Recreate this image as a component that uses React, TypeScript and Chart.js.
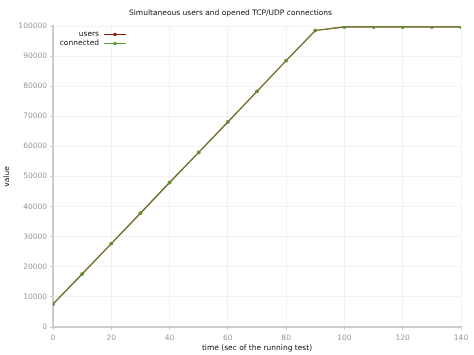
import React, { useEffect, useRef } from "react";
import { Chart, registerables } from "chart.js";

Chart.register(...registerables);

const timeSec = [0, 10, 20, 30, 40, 50, 60, 70, 80, 90, 100, 110, 120, 130, 140];
const usersValues = [7600, 17600, 27700, 37800, 48000, 58000, 68100, 78300, 88500, 98500, 99700, 99700, 99700, 99700, 99700];
const connectedValues = [7600, 17600, 27700, 37800, 48000, 58000, 68100, 78300, 88500, 98500, 99700, 99700, 99700, 99700, 99700];
const seriesNames = ["users", "connected"];
const titleText = "Simultaneous users and opened TCP/UDP connections";
const xTitle = "time (sec of the running test)";
const yTitle = "value";

const FONT = "'DejaVu Sans', sans-serif";
const USERS_COLOR = "#8b1a0e";
const CONNECTED_COLOR = "#5e9c36";

const legendPlugin = {
  id: "gnuLegend",
  afterDraw(chart: any) {
    const ctx = chart.ctx;
    const items = [
      { label: seriesNames[0], color: USERS_COLOR, y: 34 },
      { label: seriesNames[1], color: CONNECTED_COLOR, y: 43 },
    ];
    ctx.save();
    ctx.font = `7.5px ${FONT}`;
    ctx.textAlign = "right";
    ctx.textBaseline = "middle";
    for (const it of items) {
      ctx.fillStyle = "#111";
      ctx.fillText(it.label, 99, it.y);
      ctx.strokeStyle = it.color;
      ctx.lineWidth = 1;
      ctx.beginPath();
      ctx.moveTo(104, it.y + 0.5);
      ctx.lineTo(126, it.y + 0.5);
      ctx.stroke();
      ctx.fillStyle = it.color;
      ctx.beginPath();
      ctx.arc(115, it.y + 0.5, 1.8, 0, Math.PI * 2);
      ctx.fill();
    }
    ctx.restore();
  },
};

export default function App() {
  const ref = useRef<HTMLCanvasElement>(null);
  useEffect(() => {
    document.body.style.margin = "0";
    const chart = new Chart(ref.current as HTMLCanvasElement, {
      type: "line",
      data: {
        datasets: [
          {
            label: seriesNames[0],
            data: timeSec.map((x, i) => ({ x, y: usersValues[i] })),
            borderColor: USERS_COLOR,
            backgroundColor: USERS_COLOR,
            borderWidth: 1.2,
            pointRadius: 1.6,
            pointBorderWidth: 0,
            order: 2,
          },
          {
            label: seriesNames[1],
            data: timeSec.map((x, i) => ({ x, y: connectedValues[i] })),
            borderColor: "rgba(94,156,54,0.72)",
            backgroundColor: "rgba(94,156,54,0.8)",
            borderWidth: 1.2,
            pointRadius: 1.9,
            pointBorderWidth: 0,
            order: 1,
          },
        ],
      },
      options: {
        responsive: false,
        animation: false,
        layout: { padding: { left: 0, right: 13, top: 0, bottom: 0 } },
        plugins: {
          legend: { display: false },
          tooltip: { enabled: false },
          title: {
            display: true,
            text: titleText,
            color: "#111",
            font: { family: FONT, size: 7.5, weight: "normal" },
            padding: { top: 9, bottom: 8 },
          },
        },
        scales: {
          x: {
            type: "linear",
            min: 0,
            max: 140,
            ticks: {
              stepSize: 20,
              color: "#999",
              font: { family: FONT, size: 7.5 },
              padding: 4,
              maxRotation: 0,
              callback: (v: any) => String(v),
            },
            grid: { color: "rgba(0,0,0,0.05)", tickLength: 3, tickColor: "#ccc" },
            border: { color: "#ccc", width: 2 },
            title: {
              display: true,
              text: xTitle,
              color: "#111",
              font: { family: FONT, size: 7.5 },
              padding: { top: 2, bottom: 2 },
            },
            afterFit(scale: any) {
              scale.height = 28;
            },
          },
          y: {
            min: 0,
            max: 100000,
            ticks: {
              stepSize: 10000,
              color: "#999",
              font: { family: FONT, size: 7.5 },
              padding: 3,
              callback: (v: any) => String(v),
            },
            grid: { color: "rgba(0,0,0,0.05)", tickLength: 3, tickColor: "#ccc" },
            border: { color: "#ccc", width: 2 },
            title: {
              display: true,
              text: yTitle,
              color: "#111",
              font: { family: FONT, size: 7.5 },
              padding: { top: 3, bottom: 0 },
            },
            afterFit(scale: any) {
              scale.width = 53;
            },
          },
        },
      },
      plugins: [legendPlugin],
    });
    return () => chart.destroy();
  }, []);
  return <canvas ref={ref} width={474} height={355} />;
}
